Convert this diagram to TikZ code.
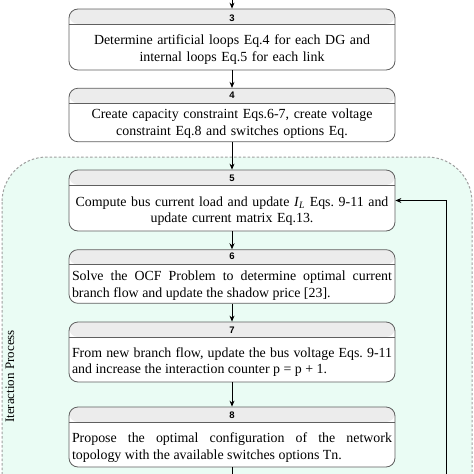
\documentclass[tikz,border=0pt]{standalone}
\usepackage{fontspec}
\setmainfont{Liberation Serif}
\setsansfont{Liberation Sans}
\usetikzlibrary{arrows.meta}

\definecolor{loopfill}{RGB}{234,252,244}
\definecolor{headfill}{RGB}{236,236,236}
\definecolor{boxline}{RGB}{95,95,95}

\newcommand{\stepno}[2][7pt]{\makebox[\linewidth]{\sffamily\bfseries\fontsize{9.5}{10}\selectfont #2}\par\vspace{#1}}
\frenchspacing

\begin{document}
\begin{tikzpicture}[x=1pt,y=-1pt,>={Stealth[length=6pt,width=5pt]},
    stepbox/.style={draw=boxline,fill=white,line width=0.8pt,rounded corners=9pt,
      minimum width=326pt,text width=320pt,inner xsep=3pt,align=center,
      font=\fontsize{13.9}{16.7}\selectfont,
      path picture={
        \fill[headfill] (path picture bounding box.north west) rectangle ([yshift=-15pt]path picture bounding box.north east);
        \draw[boxline,line width=0.8pt] ([yshift=-15pt]path picture bounding box.north west) -- ([yshift=-15pt]path picture bounding box.north east);
      }},
    flow/.style={->,line width=0.8pt}]

    \useasboundingbox (0,0) rectangle (474,474);
    \clip (0,0) rectangle (474,474);

    % iteration loop
    \draw[gray!75,fill=loopfill,line width=1pt,dash pattern=on 2.5pt off 2pt,rounded corners=45pt] (2,157) rectangle (472,560);
    \node[rotate=90,font=\fontsize{13}{15}\selectfont] (iter) at (10,376.5) {Iteraction Process};

    \node[stepbox,minimum height=61pt] (s3) at (232,39.5)  {\stepno{3}Determine artificial loops Eq.4 for each DG and\\ internal loops Eq.5 for each link};
    \node[stepbox,minimum height=52pt] (s4) at (232,115)   {\stepno[4pt]{4}Create capacity constraint Eqs.6-7, create voltage\\ constraint Eq.8 and switches options Eq.};
    \node[stepbox,minimum height=61pt] (s5) at (232,200.5) {\stepno[8pt]{5}Compute bus current load and update \textit{I}\textsubscript{\textit{L}} Eqs. 9-11 and\\ update current matrix Eq.13.};
    \node[stepbox,minimum height=52pt,align=justify] (s6) at (232,276.5) {\stepno[4pt]{6}Solve the OCF Problem to determine optimal current\linebreak branch flow and update the shadow price [23].};
    \node[stepbox,minimum height=60pt,align=justify] (s7) at (232,352) {\stepno{7}From new branch flow, update the bus voltage Eqs. 9-11\linebreak and increase the interaction counter p = p + 1.};
    \node[stepbox,minimum height=60pt,align=justify] (s8) at (232,437) {\stepno{8}Propose the optimal configuration of the network\linebreak topology with the available switches options Tn.};

    \coordinate (in) at (232,-2);
    \coordinate (out) at (232,480);
    \coordinate (back) at (446,480);

    \draw[flow] (in) -- (s3);
    \draw[flow] (s3) -- (s4);
    \draw[flow] (s4) -- (s5);
    \draw[flow] (s5) -- (s6);
    \draw[flow] (s6) -- (s7);
    \draw[flow] (s7) -- (s8);
    \draw[line width=0.8pt] (s8) -- (out);
    \draw[flow] (back) |- (s5);
\end{tikzpicture}
\end{document}
